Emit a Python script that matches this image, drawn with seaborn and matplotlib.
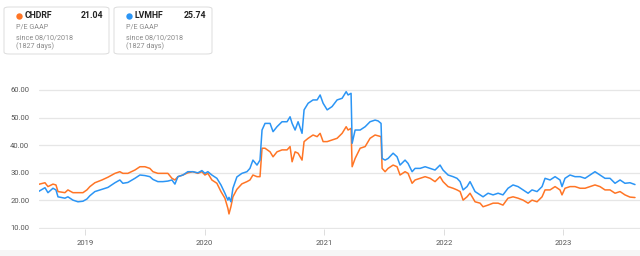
import numpy as np
import pandas as pd
import matplotlib
matplotlib.use("Agg")
import matplotlib.pyplot as plt
from matplotlib.patches import FancyBboxPatch, Rectangle
from matplotlib.lines import Line2D
import seaborn as sns

# ---- data ----
years = [2018.608, 2018.663, 2018.688, 2018.730, 2018.755, 2018.772, 2018.830, 2018.855, 2018.897, 2018.939,
         2018.981, 2019.014, 2019.039, 2019.081, 2019.140, 2019.190, 2019.249, 2019.290, 2019.315, 2019.357,
         2019.416, 2019.458, 2019.500, 2019.541, 2019.567, 2019.608, 2019.650, 2019.692, 2019.726, 2019.751,
         2019.776, 2019.818, 2019.859, 2019.901, 2019.943, 2019.977, 2020.002, 2020.027, 2020.060, 2020.102,
         2020.136, 2020.169, 2020.194, 2020.203, 2020.219, 2020.236, 2020.269, 2020.311, 2020.353, 2020.378,
         2020.403, 2020.437, 2020.462, 2020.479, 2020.504, 2020.546, 2020.571, 2020.604, 2020.646, 2020.688,
         2020.713, 2020.730, 2020.755, 2020.780, 2020.813, 2020.830, 2020.864, 2020.905, 2020.939, 2020.964,
         2020.989, 2021.023, 2021.064, 2021.106, 2021.148, 2021.182, 2021.198, 2021.223, 2021.232, 2021.257,
         2021.299, 2021.341, 2021.382, 2021.424, 2021.449, 2021.474, 2021.483, 2021.508, 2021.533, 2021.575,
         2021.608, 2021.633, 2021.675, 2021.700, 2021.734, 2021.759, 2021.801, 2021.843, 2021.885, 2021.926,
         2021.968, 2021.993, 2022.035, 2022.077, 2022.110, 2022.136, 2022.161, 2022.194, 2022.219, 2022.261,
         2022.303, 2022.328, 2022.370, 2022.412, 2022.454, 2022.495, 2022.537, 2022.579, 2022.621, 2022.663,
         2022.705, 2022.738, 2022.780, 2022.822, 2022.847, 2022.889, 2022.931, 2022.972, 2022.989, 2023.014,
         2023.056, 2023.098, 2023.140, 2023.182, 2023.223, 2023.265, 2023.307, 2023.349, 2023.391, 2023.433,
         2023.475, 2023.516, 2023.558, 2023.600]

chdrf = [25.8, 26.4, 25.0, 25.9, 25.6, 23.2, 22.8, 23.8, 22.8, 22.8,
         22.8, 23.8, 25.0, 26.4, 27.4, 28.4, 29.8, 30.4, 29.8, 29.8,
         31.0, 32.2, 32.2, 31.6, 30.4, 29.8, 29.8, 29.8, 28.0, 27.4,
         28.6, 29.2, 30.0, 30.4, 29.8, 30.4, 29.2, 29.8, 27.4, 26.2,
         23.2, 20.8, 17.1, 15.1, 17.7, 21.3, 24.0, 26.0, 26.8, 27.4,
         29.2, 28.6, 28.6, 38.9, 38.9, 37.6, 35.8, 37.6, 38.3, 38.3,
         39.5, 34.0, 37.6, 37.1, 34.6, 41.3, 42.5, 43.7, 43.1, 44.3,
         41.3, 41.3, 41.9, 42.5, 44.3, 46.7, 45.5, 46.1, 32.2, 35.2,
         38.9, 39.5, 42.5, 43.7, 43.4, 43.1, 31.6, 30.4, 31.6, 32.8,
         32.2, 29.2, 30.4, 29.8, 26.2, 27.4, 28.0, 28.6, 28.0, 26.8,
         28.6, 26.8, 25.0, 24.4, 23.8, 23.2, 20.1, 21.3, 22.6, 19.5,
         19.0, 17.7, 18.3, 19.0, 19.0, 18.3, 20.8, 21.3, 20.8, 20.1,
         19.0, 20.1, 19.5, 21.3, 23.8, 23.8, 25.0, 23.8, 22.0, 24.4,
         25.0, 25.0, 24.4, 24.4, 25.0, 25.6, 25.0, 23.8, 23.8, 22.6,
         23.2, 22.0, 21.2, 21.04]

lvmhf = [23.2, 24.6, 22.8, 24.4, 23.8, 21.3, 20.8, 21.3, 20.1, 19.5,
         19.7, 20.5, 21.7, 23.2, 24.0, 24.7, 26.4, 27.4, 26.2, 26.5,
         28.0, 29.2, 29.0, 28.6, 27.6, 26.8, 26.8, 27.0, 27.4, 25.9,
         28.6, 29.2, 30.4, 30.4, 30.0, 30.8, 29.8, 30.4, 29.2, 28.0,
         25.6, 22.6, 20.1, 21.1, 19.5, 24.4, 28.5, 29.8, 30.4, 31.6,
         34.6, 32.8, 34.6, 45.5, 47.9, 47.9, 44.9, 46.7, 48.5, 48.5,
         50.3, 47.9, 45.5, 48.5, 44.3, 52.8, 55.2, 56.4, 56.4, 58.2,
         55.2, 52.8, 54.0, 56.4, 57.0, 59.4, 58.2, 58.8, 40.7, 45.5,
         45.5, 46.7, 48.5, 49.1, 48.8, 47.9, 35.2, 34.6, 35.2, 37.1,
         35.8, 32.8, 34.6, 33.4, 30.4, 31.6, 31.6, 32.2, 31.6, 31.0,
         32.8, 31.0, 29.2, 28.6, 28.0, 26.8, 23.8, 25.0, 26.8, 23.2,
         22.0, 21.3, 22.6, 22.0, 22.6, 22.0, 24.4, 25.6, 25.0, 23.8,
         22.6, 23.8, 23.2, 25.0, 28.0, 27.4, 28.6, 27.4, 25.0, 28.0,
         29.2, 28.6, 28.6, 28.0, 29.2, 30.4, 29.2, 28.0, 28.0, 26.2,
         27.4, 26.2, 26.4, 25.74]

tickers = ["CHDRF", "LVMHF"]
last_values = ["21.04", "25.74"]
metric = "P/E GAAP"
since_text = "since 08/10/2018"
days_text = "(1827 days)"
year_ticks = [2019, 2020, 2021, 2022, 2023]
y_ticks = [10, 20, 30, 40, 50, 60]
colors = ["#ff7525", "#2b95f5"]


def frac_to_date(y):
    yr = int(np.floor(y))
    start = pd.Timestamp(year=yr, month=1, day=1)
    end = pd.Timestamp(year=yr + 1, month=1, day=1)
    return start + (end - start) * (y - yr)


dates = [frac_to_date(y) for y in years]
df = pd.DataFrame({
    "date": dates * 2,
    "value": chdrf + lvmhf,
    "ticker": [tickers[0]] * len(dates) + [tickers[1]] * len(dates),
})

sns.set_theme(style="white")
plt.rcParams["font.family"] = ["Roboto", "DejaVu Sans"]

W, H = 640, 256
fig = plt.figure(figsize=(W / 100, H / 100), dpi=100)
fig.patch.set_facecolor("white")

# axes placement in pixels
ax_left, ax_right, ax_top, ax_bottom = 39, 640, 80, 229
ax = fig.add_axes([ax_left / W, 1 - ax_bottom / H, (ax_right - ax_left) / W, (ax_bottom - ax_top) / H])

sns.lineplot(data=df, x="date", y="value", hue="ticker", palette=colors,
             linewidth=1.1, legend=False, ax=ax, zorder=3)

px_per_unit = 2.76
ax.set_ylim(10 - (ax_bottom - 228) / px_per_unit, 60 + (90 - ax_top) / px_per_unit)
ax.set_xlim(frac_to_date(2018.613), frac_to_date(2023.642))

ax.set_yticks(y_ticks)
ax.set_yticklabels([f"{v:.2f}" for v in y_ticks])
ax.set_xticks([pd.Timestamp(year=y, month=1, day=1) for y in year_ticks])
ax.set_xticklabels([str(y) for y in year_ticks])
ax.grid(axis="y", color="#e6e6e6", linewidth=0.9, zorder=0)
ax.grid(axis="x", visible=False)
for s in ax.spines.values():
    s.set_visible(False)
ax.tick_params(axis="y", length=0, pad=7, labelsize=5.5, labelcolor="#555555")
ax.tick_params(axis="x", length=4.3, width=0.7, color="#dddddd", direction="out",
               pad=3.5, labelsize=5.5, labelcolor="#555555", bottom=True)
ax.set_xlabel("")
ax.set_ylabel("")
ax.set_facecolor("white")

# footer band
fig.patches.append(Rectangle((0, 0), 1, 6 / H, transform=fig.transFigure,
                             facecolor="#f6f6f6", edgecolor="none", zorder=0))


def fx(x):
    return x / W


def fy(y):
    return 1 - y / H


# legend cards
cards = [(4, 109), (114, 212)]
for i, (x0, x1) in enumerate(cards):
    y0, y1 = 7, 54
    box = FancyBboxPatch((fx(x0), fy(y1)), fx(x1 - x0), (y1 - y0) / H,
                         boxstyle="round,pad=0,rounding_size=0.008",
                         transform=fig.transFigure, facecolor="white",
                         edgecolor="#dcdcdc", linewidth=0.7)
    fig.patches.append(box)
    # dot
    fig.add_artist(Line2D([fx(x0 + 14.5)], [fy(15.5)], transform=fig.transFigure,
                          marker="o", markersize=4.6, color=colors[i],
                          markeredgewidth=0, linestyle="none"))
    fig.text(fx(x0 + 20.5), fy(15.7), tickers[i], fontsize=6.3, fontweight="bold",
             color="#222222", va="center", ha="left")
    fig.text(fx(x1 - 6), fy(15.7), last_values[i], fontsize=6.3, fontweight="bold",
             color="#222222", va="center", ha="right")
    fig.text(fx(x0 + 12), fy(27), metric, fontsize=5.2, color="#8a8a8a", va="center", ha="left")
    fig.text(fx(x0 + 12), fy(38.5), since_text, fontsize=5.2, color="#8a8a8a", va="center", ha="left")
    fig.text(fx(x0 + 12), fy(46.5), days_text, fontsize=5.2, color="#8a8a8a", va="center", ha="left")

fig.savefig("out.png", dpi=100, facecolor="white")
